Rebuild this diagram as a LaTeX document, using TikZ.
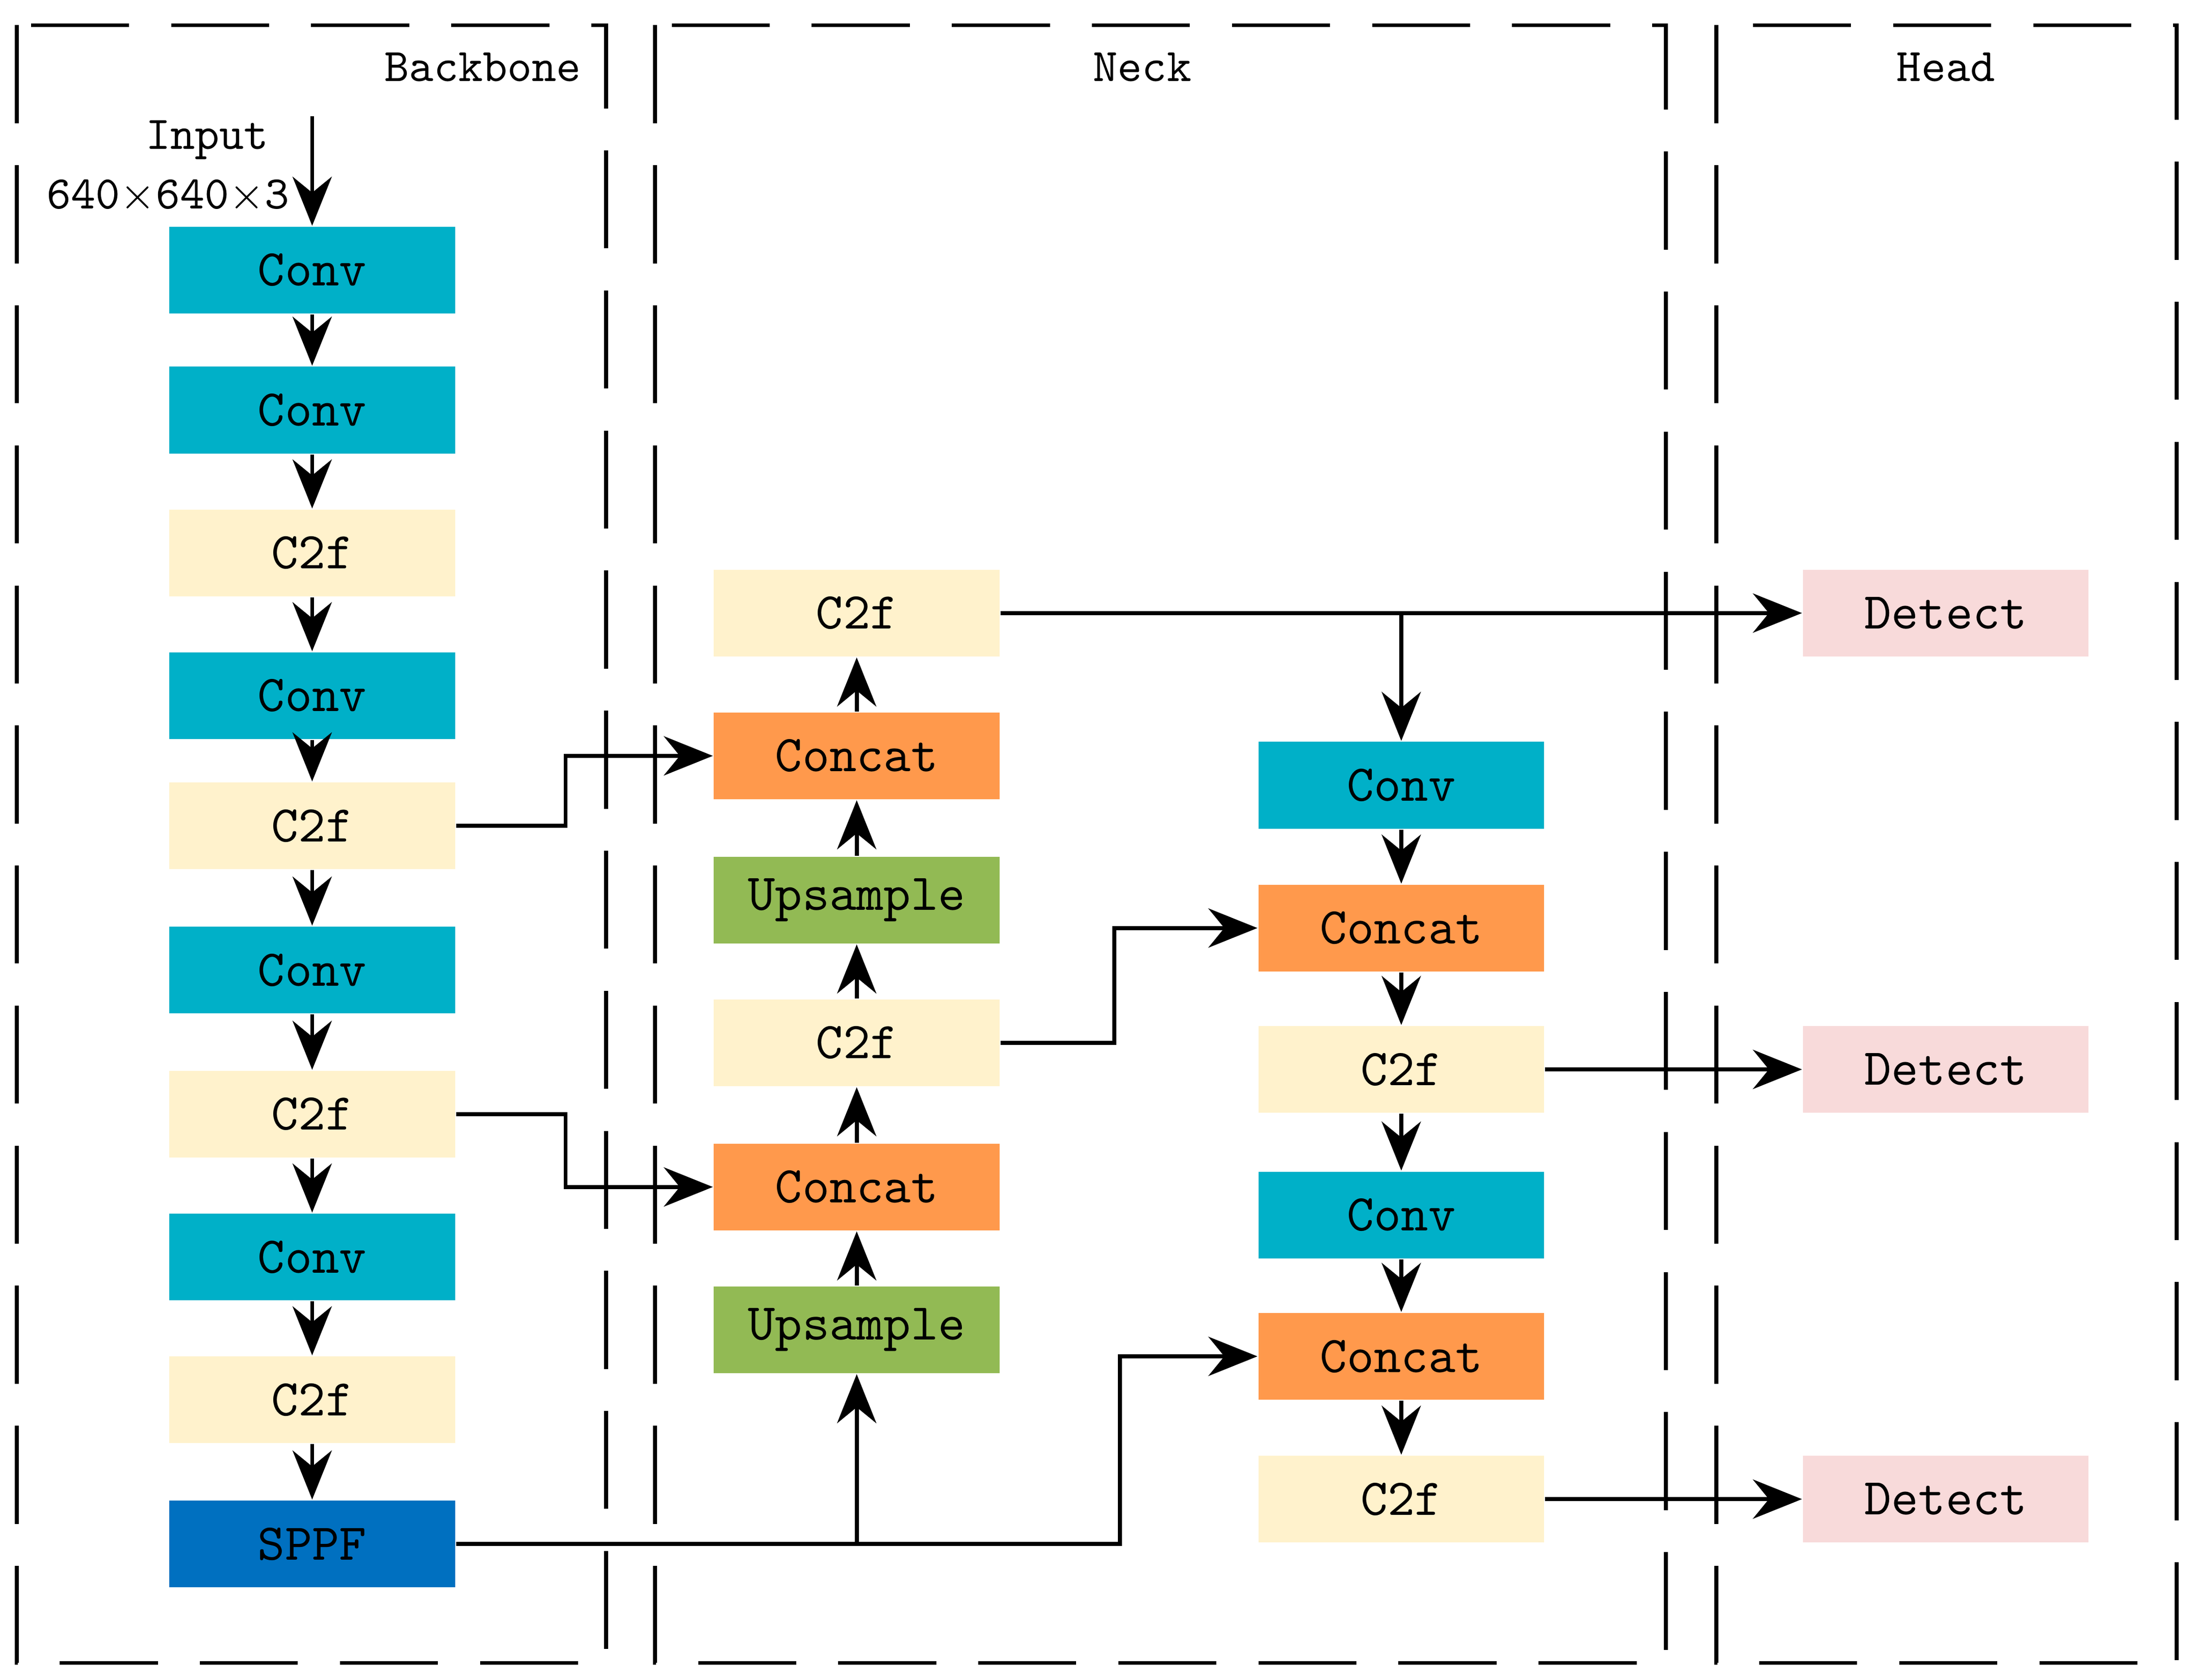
\documentclass[tikz,border=0pt]{standalone}
\usepackage{tikz}
\usetikzlibrary{arrows.meta,positioning,calc}
\definecolor{convc}{RGB}{0,176,200}
\definecolor{cfc}{RGB}{255,242,204}
\definecolor{catc}{RGB}{255,153,76}
\definecolor{upc}{RGB}{146,186,84}
\definecolor{sppfc}{RGB}{0,112,192}
\definecolor{detc}{RGB}{248,218,218}
\tikzset{
  blk/.style={minimum width=2.04cm, minimum height=0.62cm, inner sep=0pt, font=\ttfamily\fontsize{10.5}{12}\selectfont},
  conv/.style={blk, fill=convc},
  cf/.style={blk, fill=cfc},
  cat/.style={blk, fill=catc},
  up/.style={blk, fill=upc},
  sppf/.style={blk, fill=sppfc},
  det/.style={blk, fill=detc},
  arr/.style={thick, -{Stealth[length=3.5mm, width=2.8mm]}},
  frame/.style={thick, dash pattern=on 7mm off 3mm},
  ttl/.style={font=\ttfamily\fontsize{9.5}{11}\selectfont}
}
\begin{document}
\begin{tikzpicture}[x=0.01cm, y=-0.01cm]
    \useasboundingbox (0,0) rectangle (1568,1200);
    % Frames
    \draw[frame] (12,18) rectangle (433,1188);
    \draw[frame] (468,18) rectangle (1190,1188);
    \draw[frame] (1226,18) rectangle (1555,1188);
    \node[ttl] (tb) at (345,48) {Backbone};
    \node[ttl] (tn) at (816,48) {Neck};
    \node[ttl] (th) at (1390,48) {Head};

    % Backbone
    \node[ttl] (inp) at (148,100) {Input};
    \node[ttl] (dim) at (120,140) {640$\times$640$\times$3};
    \coordinate (in) at (223,83);
    \node[conv] (b1) at (223,193) {Conv};
    \node[conv] (b2) at (223,293) {Conv};
    \node[cf]   (b3) at (223,395) {C2f};
    \node[conv] (b4) at (223,497) {Conv};
    \node[cf]   (b5) at (223,590) {C2f};
    \node[conv] (b6) at (223,693) {Conv};
    \node[cf]   (b7) at (223,796) {C2f};
    \node[conv] (b8) at (223,898) {Conv};
    \node[cf]   (b9) at (223,1000) {C2f};
    \node[sppf] (b10) at (223,1103) {SPPF};
    \draw[arr] (in) -- (b1);
    \foreach \a/\b in {b1/b2,b2/b3,b3/b4,b4/b5,b5/b6,b6/b7,b7/b8,b8/b9,b9/b10}
        \draw[arr] (\a) -- (\b);

    % Neck
    \node[cf]  (n1) at (612,438) {C2f};
    \node[cat] (n2) at (612,540) {Concat};
    \node[up]  (n3) at (612,643) {Upsample};
    \node[cf]  (n4) at (612,745) {C2f};
    \node[cat] (n5) at (612,848) {Concat};
    \node[up]  (n6) at (612,950) {Upsample};
    \foreach \a/\b in {n6/n5,n5/n4,n4/n3,n3/n2,n2/n1}
        \draw[arr] (\a) -- (\b);
    \node[conv] (m1) at (1001,561) {Conv};
    \node[cat]  (m2) at (1001,663) {Concat};
    \node[cf]   (m3) at (1001,764) {C2f};
    \node[conv] (m4) at (1001,868) {Conv};
    \node[cat]  (m5) at (1001,969) {Concat};
    \node[cf]   (m6) at (1001,1071) {C2f};
    \foreach \a/\b in {m1/m2,m2/m3,m3/m4,m4/m5,m5/m6}
        \draw[arr] (\a) -- (\b);

    % Head
    \node[det] (d1) at (1390,438) {Detect};
    \node[det] (d2) at (1390,764) {Detect};
    \node[det] (d3) at (1390,1071) {Detect};

    % Links
    \draw[arr] (b5.east) -- (404,590) |- (n2.west);
    \draw[arr] (b7.east) -- (404,796) |- (n5.west);
    \coordinate (j1) at (612,1103);
    \draw[thick] (b10.east) -- (j1);
    \draw[arr] (j1) -- (n6.south);
    \draw[arr] (j1) -- (800,1103) |- (m5.west);
    \draw[arr] (n4.east) -- (796,745) |- (m2.west);
    \coordinate (j2) at (1001,438);
    \draw[arr] (n1.east) -- (d1.west);
    \draw[arr] (j2) -- (m1.north);
    \draw[arr] (m3.east) -- (d2.west);
    \draw[arr] (m6.east) -- (d3.west);
\end{tikzpicture}
\end{document}
